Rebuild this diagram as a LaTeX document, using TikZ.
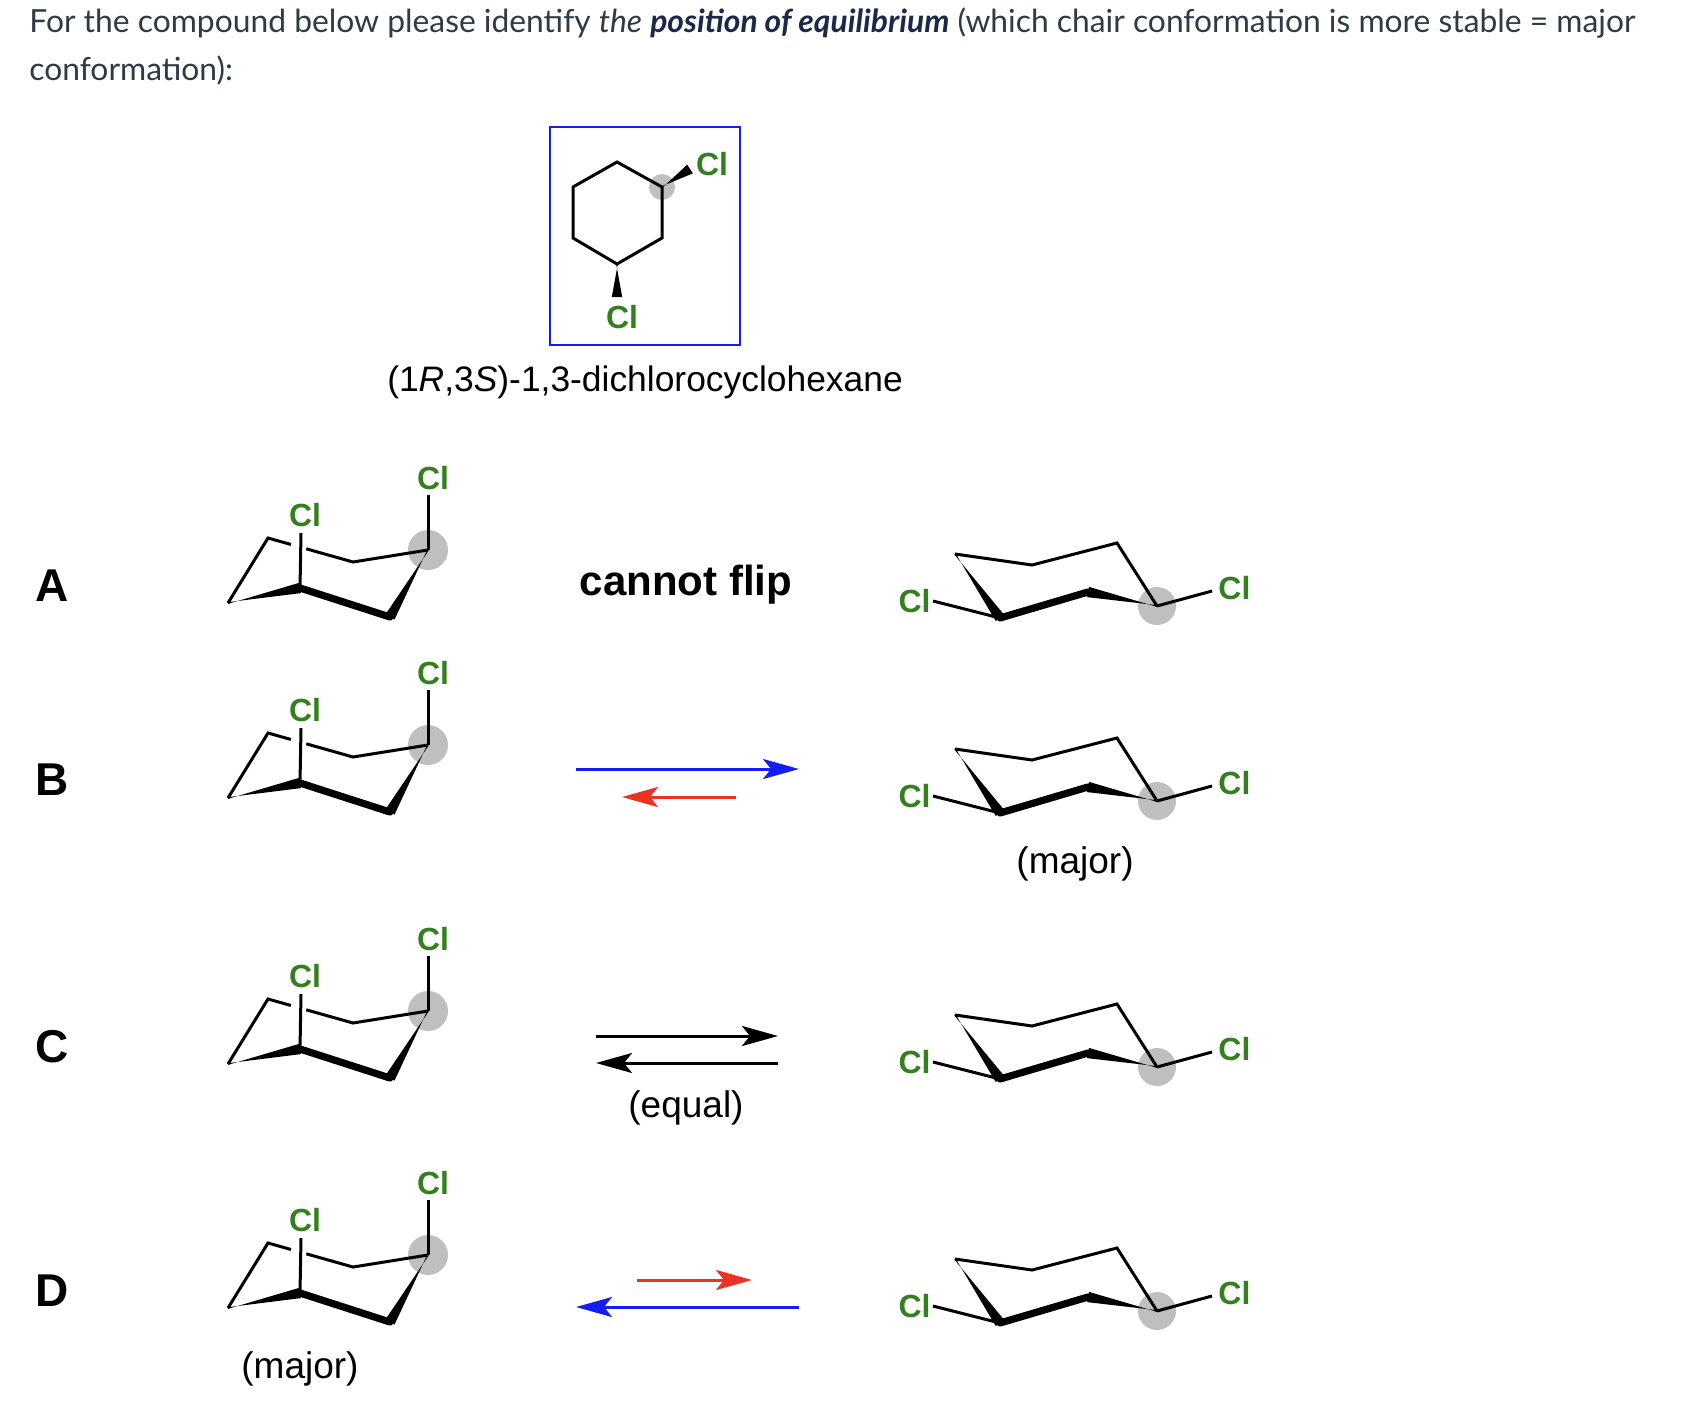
\documentclass[tikz,border=0pt]{standalone}
\usepackage{fontspec}
\setmainfont{Lato}
\newfontfamily\arial{Liberation Sans}
\usetikzlibrary{calc,arrows.meta}
\definecolor{clg}{RGB}{52,128,30}
\definecolor{txt}{RGB}{45,59,69}
\definecolor{navy}{RGB}{28,40,74}
\definecolor{ablue}{RGB}{20,30,240}
\definecolor{ared}{RGB}{235,50,35}
\tikzset{
  bond/.style={line width=1.5pt,line join=miter},
  bold/.style={line width=3.6pt,line cap=round},
  cl/.style={font=\arial\bfseries\fontsize{16pt}{16pt}\selectfont,text=clg,inner sep=0pt},
  hl/.style={fill=black!25},
  lab/.style={font=\arial\bfseries\fontsize{23pt}{23pt}\selectfont,inner sep=0pt},
  plain/.style={font=\arial\fontsize{18.5pt}{18.5pt}\selectfont,inner sep=0pt},
  eqarr/.style={line width=1.5pt,-{Stealth[length=18pt,width=10pt,inset=4pt]}}
}
\newcommand\wdg[2]{\fill ($(#1)!0.4pt!90:(#2)$) -- ($(#2)!2.6pt!90:(#1)$) -- ($(#2)!2.6pt!-90:(#1)$) -- ($(#1)!0.4pt!-90:(#2)$) -- cycle;}
\newcommand\leftchair[2]{%
\begin{scope}[shift={(0,#1)}]
  \coordinate (#2p1) at (228,603); \coordinate (#2p2) at (268,538);
  \coordinate (#2p3) at (353,562); \coordinate (#2p4) at (428,550);
  \coordinate (#2p5) at (390,617); \coordinate (#2p6) at (300,588);
  \fill[hl] (#2p4) circle (10pt);
  \draw[bond] (#2p1) -- (#2p2) -- ($(#2p2)!0.27!(#2p3)$);
  \draw[bond] ($(#2p2)!0.45!(#2p3)$) -- (#2p3) -- (#2p4);
  \coordinate (#2c1) at (301,533); \coordinate (#2c2) at (428,495);
  \draw[bond] (#2p6) -- (#2c1); \draw[bond] (#2p4) -- (#2c2);
  \wdg{#2p1}{#2p6} \draw[bold] (#2p6) -- (#2p5); \wdg{#2p4}{#2p5}
  \node[cl] (#2L1) at (305,515) {Cl};
  \node[cl] (#2L2) at (433,478) {Cl};
\end{scope}}
\newcommand\rightchair[2]{%
\begin{scope}[shift={(0,#1)}]
  \coordinate (#2q1) at (955,554); \coordinate (#2q2) at (1032,565);
  \coordinate (#2q3) at (1117,543); \coordinate (#2q4) at (1157,606);
  \coordinate (#2q5) at (1088,592); \coordinate (#2q6) at (1000,618);
  \fill[hl] (#2q4) circle (9.5pt);
  \draw[bond] (#2q1) -- (#2q2) -- (#2q3) -- (#2q4);
  \coordinate (#2c1) at (933,601); \coordinate (#2c2) at (1212,591);
  \draw[bond] (#2q6) -- (#2c1); \draw[bond] (#2q4) -- (#2c2);
  \wdg{#2q4}{#2q5} \draw[bold] (#2q5) -- (#2q6); \wdg{#2q1}{#2q6}
  \node[cl,anchor=east] (#2L1) at (931,601) {Cl};
  \node[cl,anchor=west] (#2L2) at (1218,588) {Cl};
\end{scope}}
\begin{document}
\begin{tikzpicture}[x=0.5pt,y=-0.5pt]
\useasboundingbox (0,0) rectangle (1700,1418);
\fill[white] (0,0) rectangle (1700,1418);
% header
\node[anchor=base west,inner sep=0pt,text=txt,font=\fontsize{15.9pt}{15.9pt}\selectfont] (h1) at (29,33)
 {For the compound below please identify \textit{the} \textcolor{navy}{\textbf{\textit{position of equilibrium}}} (which chair conformation is more stable = major};
\node[anchor=base west,inner sep=0pt,text=txt,font=\fontsize{15.9pt}{15.9pt}\selectfont] (h2) at (29,81) {conformation):};
% box molecule
\draw[ablue,line width=1pt] (550,127) rectangle (740,345);
\coordinate (a1) at (617,162); \coordinate (a2) at (662,187); \coordinate (a3) at (662,238);
\coordinate (a4) at (617,264); \coordinate (a5) at (573,238); \coordinate (a6) at (573,187);
\fill[hl] (a2) circle (6.5pt);
\draw[bond] (a1) -- (a2) -- (a3) -- (a4) -- (a5) -- (a6) -- cycle;
\coordinate (w1) at (690,169); \coordinate (w2) at (617,297);
\wdg{a2}{w1} \wdg{a4}{w2}
\node[cl] (t1) at (712,164) {Cl};
\node[cl] (t2) at (622,317) {Cl};
\node[plain,font=\arial\fontsize{17.7pt}{17.7pt}\selectfont] (name) at (645,382) {(1\textit{R},3\textit{S})-1,3-dichlorocyclohexane};
% rows
\leftchair{0}{A} \rightchair{0}{A}
\leftchair{195}{B} \rightchair{195}{B}
\leftchair{461}{C} \rightchair{461}{C}
\leftchair{705}{D} \rightchair{705}{D}
\node[lab] (rA) at (52,586) {A};
\node[lab] (rB) at (52,780) {B};
\node[lab] (rC) at (52,1047) {C};
\node[lab] (rD) at (52,1291) {D};
\node[font=\arial\bfseries\fontsize{21pt}{21pt}\selectfont,inner sep=0pt] (cf) at (686,585) {cannot flip};
% arrows B
\coordinate (b1) at (576,769); \coordinate (b2) at (799,769);
\coordinate (b3) at (736,797); \coordinate (b4) at (622,797);
\draw[eqarr,ablue] (b1) -- (b2);
\draw[eqarr,ared] (b3) -- (b4);
% arrows C
\coordinate (c1) at (596,1036); \coordinate (c2) at (778,1036);
\coordinate (c3) at (778,1063); \coordinate (c4) at (596,1063);
\draw[eqarr] (c1) -- (c2);
\draw[eqarr] (c3) -- (c4);
% arrows D
\coordinate (d1) at (637,1280); \coordinate (d2) at (752,1280);
\coordinate (d3) at (799,1307); \coordinate (d4) at (576,1307);
\draw[eqarr,ared] (d1) -- (d2);
\draw[eqarr,ablue] (d3) -- (d4);
\node[plain] (eq) at (686,1108) {(equal)};
\node[plain] (mB) at (1075,864) {(major)};
\node[plain] (mD) at (300,1369) {(major)};
\end{tikzpicture}
\end{document}
